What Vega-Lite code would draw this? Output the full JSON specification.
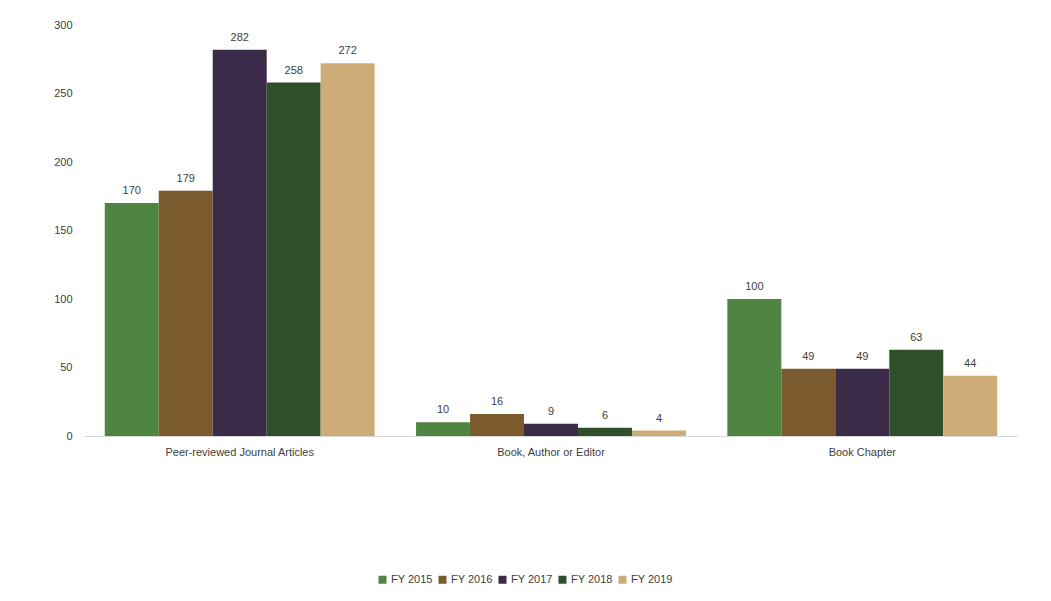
{
  "$schema": "https://vega.github.io/schema/vega-lite/v6.json",
  "width": 934,
  "height": 411,
  "autosize": {"type": "none"},
  "padding": {"left": 84, "top": 25, "right": 33, "bottom": 165},
  "background": "white",
  "config": {
    "view": {"stroke": null},
    "font": "Liberation Sans",
    "axis": {"labelFont": "Liberation Sans", "labelFontSize": 11, "labelColor": "#404040"},
    "legend": {"labelFont": "Liberation Sans", "labelFontSize": 11, "labelColor": "#404040"}
  },
  "data": {
    "values": [
      {"category": "Peer-reviewed Journal Articles", "year": "FY 2015", "value": 170},
      {"category": "Peer-reviewed Journal Articles", "year": "FY 2016", "value": 179},
      {"category": "Peer-reviewed Journal Articles", "year": "FY 2017", "value": 282},
      {"category": "Peer-reviewed Journal Articles", "year": "FY 2018", "value": 258},
      {"category": "Peer-reviewed Journal Articles", "year": "FY 2019", "value": 272},
      {"category": "Book, Author or Editor", "year": "FY 2015", "value": 10},
      {"category": "Book, Author or Editor", "year": "FY 2016", "value": 16},
      {"category": "Book, Author or Editor", "year": "FY 2017", "value": 9},
      {"category": "Book, Author or Editor", "year": "FY 2018", "value": 6},
      {"category": "Book, Author or Editor", "year": "FY 2019", "value": 4},
      {"category": "Book Chapter", "year": "FY 2015", "value": 100},
      {"category": "Book Chapter", "year": "FY 2016", "value": 49},
      {"category": "Book Chapter", "year": "FY 2017", "value": 49},
      {"category": "Book Chapter", "year": "FY 2018", "value": 63},
      {"category": "Book Chapter", "year": "FY 2019", "value": 44}
    ]
  },
  "encoding": {
    "x": {
      "field": "category",
      "type": "nominal",
      "sort": null,
      "scale": {"paddingInner": 0.133, "paddingOuter": 0.0667},
      "axis": {"title": null, "labelAngle": 0, "ticks": false, "domainColor": "#d9d9d9", "domainWidth": 1, "labelPadding": 10, "labelFontSize": 11}
    },
    "xOffset": {"field": "year", "type": "nominal", "sort": null},
    "y": {
      "field": "value",
      "type": "quantitative",
      "scale": {"domain": [0, 300]},
      "axis": {"title": null, "values": [0, 50, 100, 150, 200, 250, 300], "grid": false, "domain": false, "ticks": false, "labelPadding": 12}
    }
  },
  "layer": [
    {
      "mark": {"type": "bar"},
      "encoding": {
        "color": {
          "field": "year",
          "type": "nominal",
          "sort": null,
          "scale": {
            "domain": ["FY 2015", "FY 2016", "FY 2017", "FY 2018", "FY 2019"],
            "range": ["#4e8542", "#7b5b2e", "#3a2c48", "#2f4f2a", "#cdac78"]
          },
          "legend": {
            "title": null,
            "orient": "none",
            "direction": "horizontal",
            "legendX": 293,
            "legendY": 549,
            "symbolType": "square",
            "symbolSize": 64,
            "symbolStrokeWidth": 0,
            "labelOffset": 3,
            "columnPadding": 4
          }
        }
      }
    },
    {
      "mark": {"type": "text", "baseline": "bottom", "dy": -7, "fontSize": 11, "color": "#404040"},
      "encoding": {
        "text": {"field": "value", "type": "quantitative"}
      }
    }
  ]
}
